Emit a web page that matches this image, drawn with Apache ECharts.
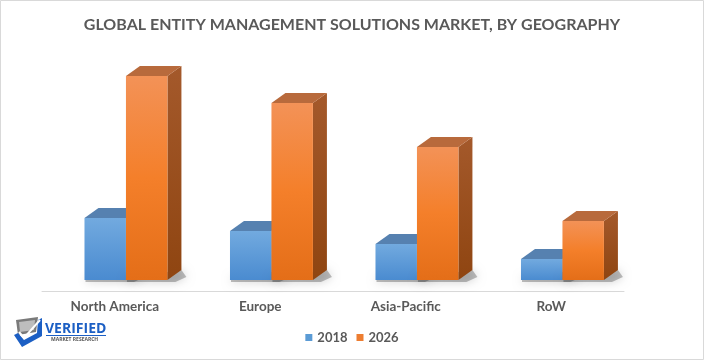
<!DOCTYPE html>
<html><head><meta charset="utf-8">
<script src="https://cdn.jsdelivr.net/npm/echarts@6/dist/echarts.min.js"></script>
<style>html,body{margin:0;padding:0;background:#fff}#c{width:704px;height:360px}</style>
</head><body><div id="c"></div>
<script>
const categories = ['North America', 'Europe', 'Asia-Pacific', 'RoW'];
const years = ['2018', '2026'];
const values2018 = [6.2, 4.9, 3.6, 2.1];
const values2026 = [20.4, 17.7, 13.3, 5.9];

const palettes = [
  {legend:'#5b9bd5', frontTop:'#72aadf', frontBot:'#4a8bd0', top:'#5681b0', sideTop:'#46709e', sideBot:'#3a6190'},
  {legend:'#ed7d31', frontTop:'#f39257', frontMid:'#f47f2a', frontBot:'#e46e18', top:'#b86a3c', sideTop:'#a4592b', sideBot:'#8f4511'}
];

function makeRender(idx){
  const p = palettes[idx];
  return function(params, api){
    const cat = api.value(0), val = api.value(1);
    const top = api.coord([cat, val]);
    const base = api.coord([cat, 0]);
    const band = api.size([1, 0])[0];
    const bw = band * 0.285;
    const shift = band * 0.077;
    const lift = 11;
    const x0 = top[0] - bw + shift + idx * bw;
    const x1 = x0 + bw;
    const yT = top[1] - lift, yB = base[1] - lift;
    const dx = 14, dy = 10;
    const frontColors = idx === 1
      ? [{offset:0,color:p.frontTop},{offset:0.5,color:p.frontMid},{offset:1,color:p.frontBot}]
      : [{offset:0,color:p.frontTop},{offset:1,color:p.frontBot}];
    return {
      type:'group',
      children:[
        {type:'polygon', shape:{points:[[x0+1,yB-2],[x1+dx,yB-dy],[x1+dx+5,yB-3],[x1+8,yB+2],[x0+1,yB+2]]},
          style:{fill:'rgba(0,0,0,0.25)', shadowBlur:10, shadowColor:'rgba(0,0,0,0.7)'}},
        {type:'polygon', shape:{points:[[x1,yT],[x1+dx,yT-dy],[x1+dx,yB-dy],[x1,yB]]},
          style:{fill:new echarts.graphic.LinearGradient(0,0,0,1,[{offset:0,color:p.sideTop},{offset:1,color:p.sideBot}])}},
        {type:'polygon', shape:{points:[[x0,yT],[x0+dx,yT-dy],[x1+dx,yT-dy],[x1,yT]]},
          style:{fill:p.top}},
        {type:'rect', shape:{x:x0, y:yT, width:bw, height:yB-yT},
          style:{fill:new echarts.graphic.LinearGradient(0,0,0,1,frontColors)}}
      ]
    };
  };
}

const chart = echarts.init(document.getElementById('c'), null, {renderer:'canvas'});
chart.setOption({
  animation:false,
  backgroundColor:'#ffffff',
  title:{
    text:'GLOBAL ENTITY MANAGEMENT SOLUTIONS MARKET, BY GEOGRAPHY',
    left:'center', top:12,
    textStyle:{fontFamily:'Lato', fontSize:16, fontWeight:'bold', color:'#595959'}
  },
  legend:{
    data:years, bottom:11, left:'center', icon:'rect', itemWidth:7, itemHeight:7, itemGap:9,
    textStyle:{fontFamily:'Lato', fontSize:13, fontWeight:'bold', color:'#595959'}
  },
  grid:{left:42, right:80, top:51, bottom:69},
  xAxis:{
    type:'category', data:categories,
    axisLine:{lineStyle:{color:'#d9d9d9', width:1}},
    axisTick:{show:false},
    axisLabel:{fontFamily:'Lato', fontSize:13.5, fontWeight:'bold', color:'#595959', margin:9}
  },
  yAxis:{type:'value', min:0, max:24, show:false, splitLine:{show:false}},
  series:[
    {name:years[0], type:'custom', renderItem:makeRender(0), itemStyle:{color:palettes[0].legend},
      data:values2018.map((v,i)=>[i,v]), encode:{x:0,y:1}},
    {name:years[1], type:'custom', renderItem:makeRender(1), itemStyle:{color:palettes[1].legend},
      data:values2026.map((v,i)=>[i,v]), encode:{x:0,y:1}}
  ],
  graphic:[
    {type:'rect', shape:{x:0.5,y:0.5,width:703,height:359}, style:{fill:'none', stroke:'#d9d9d9', lineWidth:1}, silent:true},
    {type:'polygon', shape:{points:[[16,320],[38,317],[36,332],[18,335]]}, style:{fill:'#7a7a7a'}},
    {type:'polygon', shape:{points:[[19,322],[35,320],[34,330],[20,332]]}, style:{fill:'#bdbdbd'}},
    {type:'polygon', shape:{points:[[14,335],[22,347],[42,336],[42,318],[38,320],[37,333],[24,340],[18,333]]}, style:{fill:'#1c5fc4'}},
    {type:'polyline', shape:{points:[[19,332],[24,338],[40,320]]}, style:{stroke:'#ffffff', lineWidth:2, fill:'none'}},
    {type:'text', left:45, top:322, style:{text:'VERIFIED', fontFamily:'Open Sans', fontSize:14, fontWeight:'bold', fill:'#1c5fc4'}},
    {type:'rect', shape:{x:46,y:335,width:60,height:1}, style:{fill:'#1c5fc4'}},
    {type:'text', left:51, top:337, style:{text:'MARKET RESEARCH', fontFamily:'Open Sans', fontSize:5, fontWeight:'bold', fill:'#555555'}}
  ]
});
</script></body></html>
